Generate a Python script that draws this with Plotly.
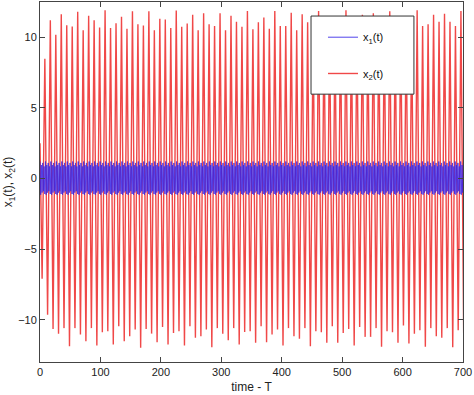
import plotly.graph_objects as go

# ---- data ----
# x2(t): start value, then alternating troughs / peaks, one pair per oscillation
x2_start = 2.5
x2_troughs = [
    -7.1, -9.65, -10.66, -11.0, -10.6, -11.88, -10.6, -11.06, -11.53, -10.6,
    -11.83, -10.89, -10.82, -11.76, -10.47, -11.53, -11.17, -10.7, -11.99, -10.66,
    -10.99, -11.6, -10.52, -11.76, -10.94, -10.82, -11.83, -10.47, -11.29, -11.17,
    -10.7, -11.95, -10.6, -11.0, -11.46, -10.6, -11.76, -10.87, -10.82, -11.64,
    -10.47, -11.6, -11.06, -10.7, -11.83, -10.6, -11.17, -11.36, -10.6, -11.88,
    -10.82, -10.89, -11.64, -10.47, -11.64, -10.94, -10.66, -11.83, -10.52, -11.22,
    -11.22, -10.6, -11.92, -10.82, -10.89, -11.64, -10.42, -11.69, -11.0, -10.75,
    -11.92, -10.6, -11.17, -11.29, -10.6, -11.95, -10.75, -11.0,
]
x2_peaks = [
    8.48, 11.2, 10.18, 11.64, 10.86, 10.77, 11.8, 10.5, 11.52, 11.2,
    10.7, 11.92, 10.65, 11.0, 11.45, 10.6, 11.85, 10.93, 10.84, 11.85,
    10.5, 11.31, 11.26, 10.65, 11.9, 10.74, 10.98, 11.59, 10.5, 11.7,
    10.93, 10.8, 11.7, 10.5, 11.52, 11.1, 10.74, 11.87, 10.57, 11.07,
    11.4, 10.6, 11.87, 10.8, 10.8, 11.73, 10.5, 11.64, 11.07, 10.7,
    11.87, 10.8, 11.1, 10.6, 11.2, 11.92, 10.7, 11.0, 11.6, 10.6,
    11.7, 10.8, 11.0, 11.85, 10.6, 11.2, 11.0, 10.7, 11.92, 10.8,
    10.93, 11.59, 11.1, 11.66, 11.1, 10.8, 11.87,
]
x2_first_trough_time = 3.5
x2_half_period = 4.53

# x1(t): fast small oscillation; extremes within a short stretch (estimated)
x1_extremes = [1.2, -1.15, 0.95, -1.0, 1.1, -0.9, 0.85, -1.1]
x1_half_period = 1.13

t_end = 700
x_ticks = [0, 100, 200, 300, 400, 500, 600, 700]
y_ticks = [-10, -5, 0, 5, 10]

# ---- build series ----
t2 = [0.0]
v2 = [x2_start]
for i in range(len(x2_troughs)):
    t2.append(x2_first_trough_time + 2 * i * x2_half_period)
    v2.append(x2_troughs[i])
    if i < len(x2_peaks):
        t2.append(x2_first_trough_time + (2 * i + 1) * x2_half_period)
        v2.append(x2_peaks[i])

t1, v1 = [], []
n1 = int(t_end / x1_half_period) + 2
for i in range(n1):
    t1.append(i * x1_half_period)
    v1.append(x1_extremes[i % len(x1_extremes)])

font = "Liberation Sans, Arial, Helvetica, sans-serif"
legend_style = dict(xanchor="left", yanchor="top", bgcolor="rgba(255,255,255,0)",
                    borderwidth=0, font=dict(family=font, size=11, color="#111"))

fig = go.Figure()
# red drawn first so the blue band sits on top of it
fig.add_trace(go.Scatter(x=t2, y=v2, mode="lines", name="x<sub>2</sub>(t)",
                         line=dict(color="#F04848", width=1.4, simplify=False), legend="legend2"))
fig.add_trace(go.Scatter(x=t1, y=v1, mode="lines", name="x<sub>1</sub>(t)", opacity=0.85,
                         line=dict(color="#3322E8", width=1, simplify=False), legend="legend"))

fig.update_layout(
    width=474, height=395,
    margin=dict(l=40, r=11, t=2, b=33),
    paper_bgcolor="white", plot_bgcolor="white",
    font=dict(family=font, size=11, color="#222"),
    showlegend=True,
    legend=dict(x=0.669, y=0.9425, **legend_style),
    legend2=dict(x=0.669, y=0.8417, **legend_style),
    shapes=[dict(type="rect", xref="paper", yref="paper",
                 x0=0.6407, x1=0.884, y0=0.744, y1=0.961,
                 fillcolor="white", line=dict(color="#333", width=1), layer="above")],
)
fig.update_xaxes(range=[0, t_end], tickvals=x_ticks, ticks="inside", ticklen=5,
                 showline=True, linecolor="#444", linewidth=1, mirror="ticks",
                 showgrid=False, zeroline=False, tickfont=dict(size=11), automargin=False,
                 title=dict(text="time - T", font=dict(size=12), standoff=5))
fig.update_yaxes(range=[-13, 12.5], tickvals=y_ticks, ticks="inside", ticklen=5,
                 showline=True, linecolor="#444", linewidth=1, mirror="ticks",
                 showgrid=False, zeroline=False, tickfont=dict(size=11), automargin=False,
                 title=dict(text="x<sub>1</sub>(t), x<sub>2</sub>(t)", font=dict(size=12), standoff=2))

fig.write_html("out.html", config={"displayModeBar": False},
               post_script="document.body.style.margin='0px';")
